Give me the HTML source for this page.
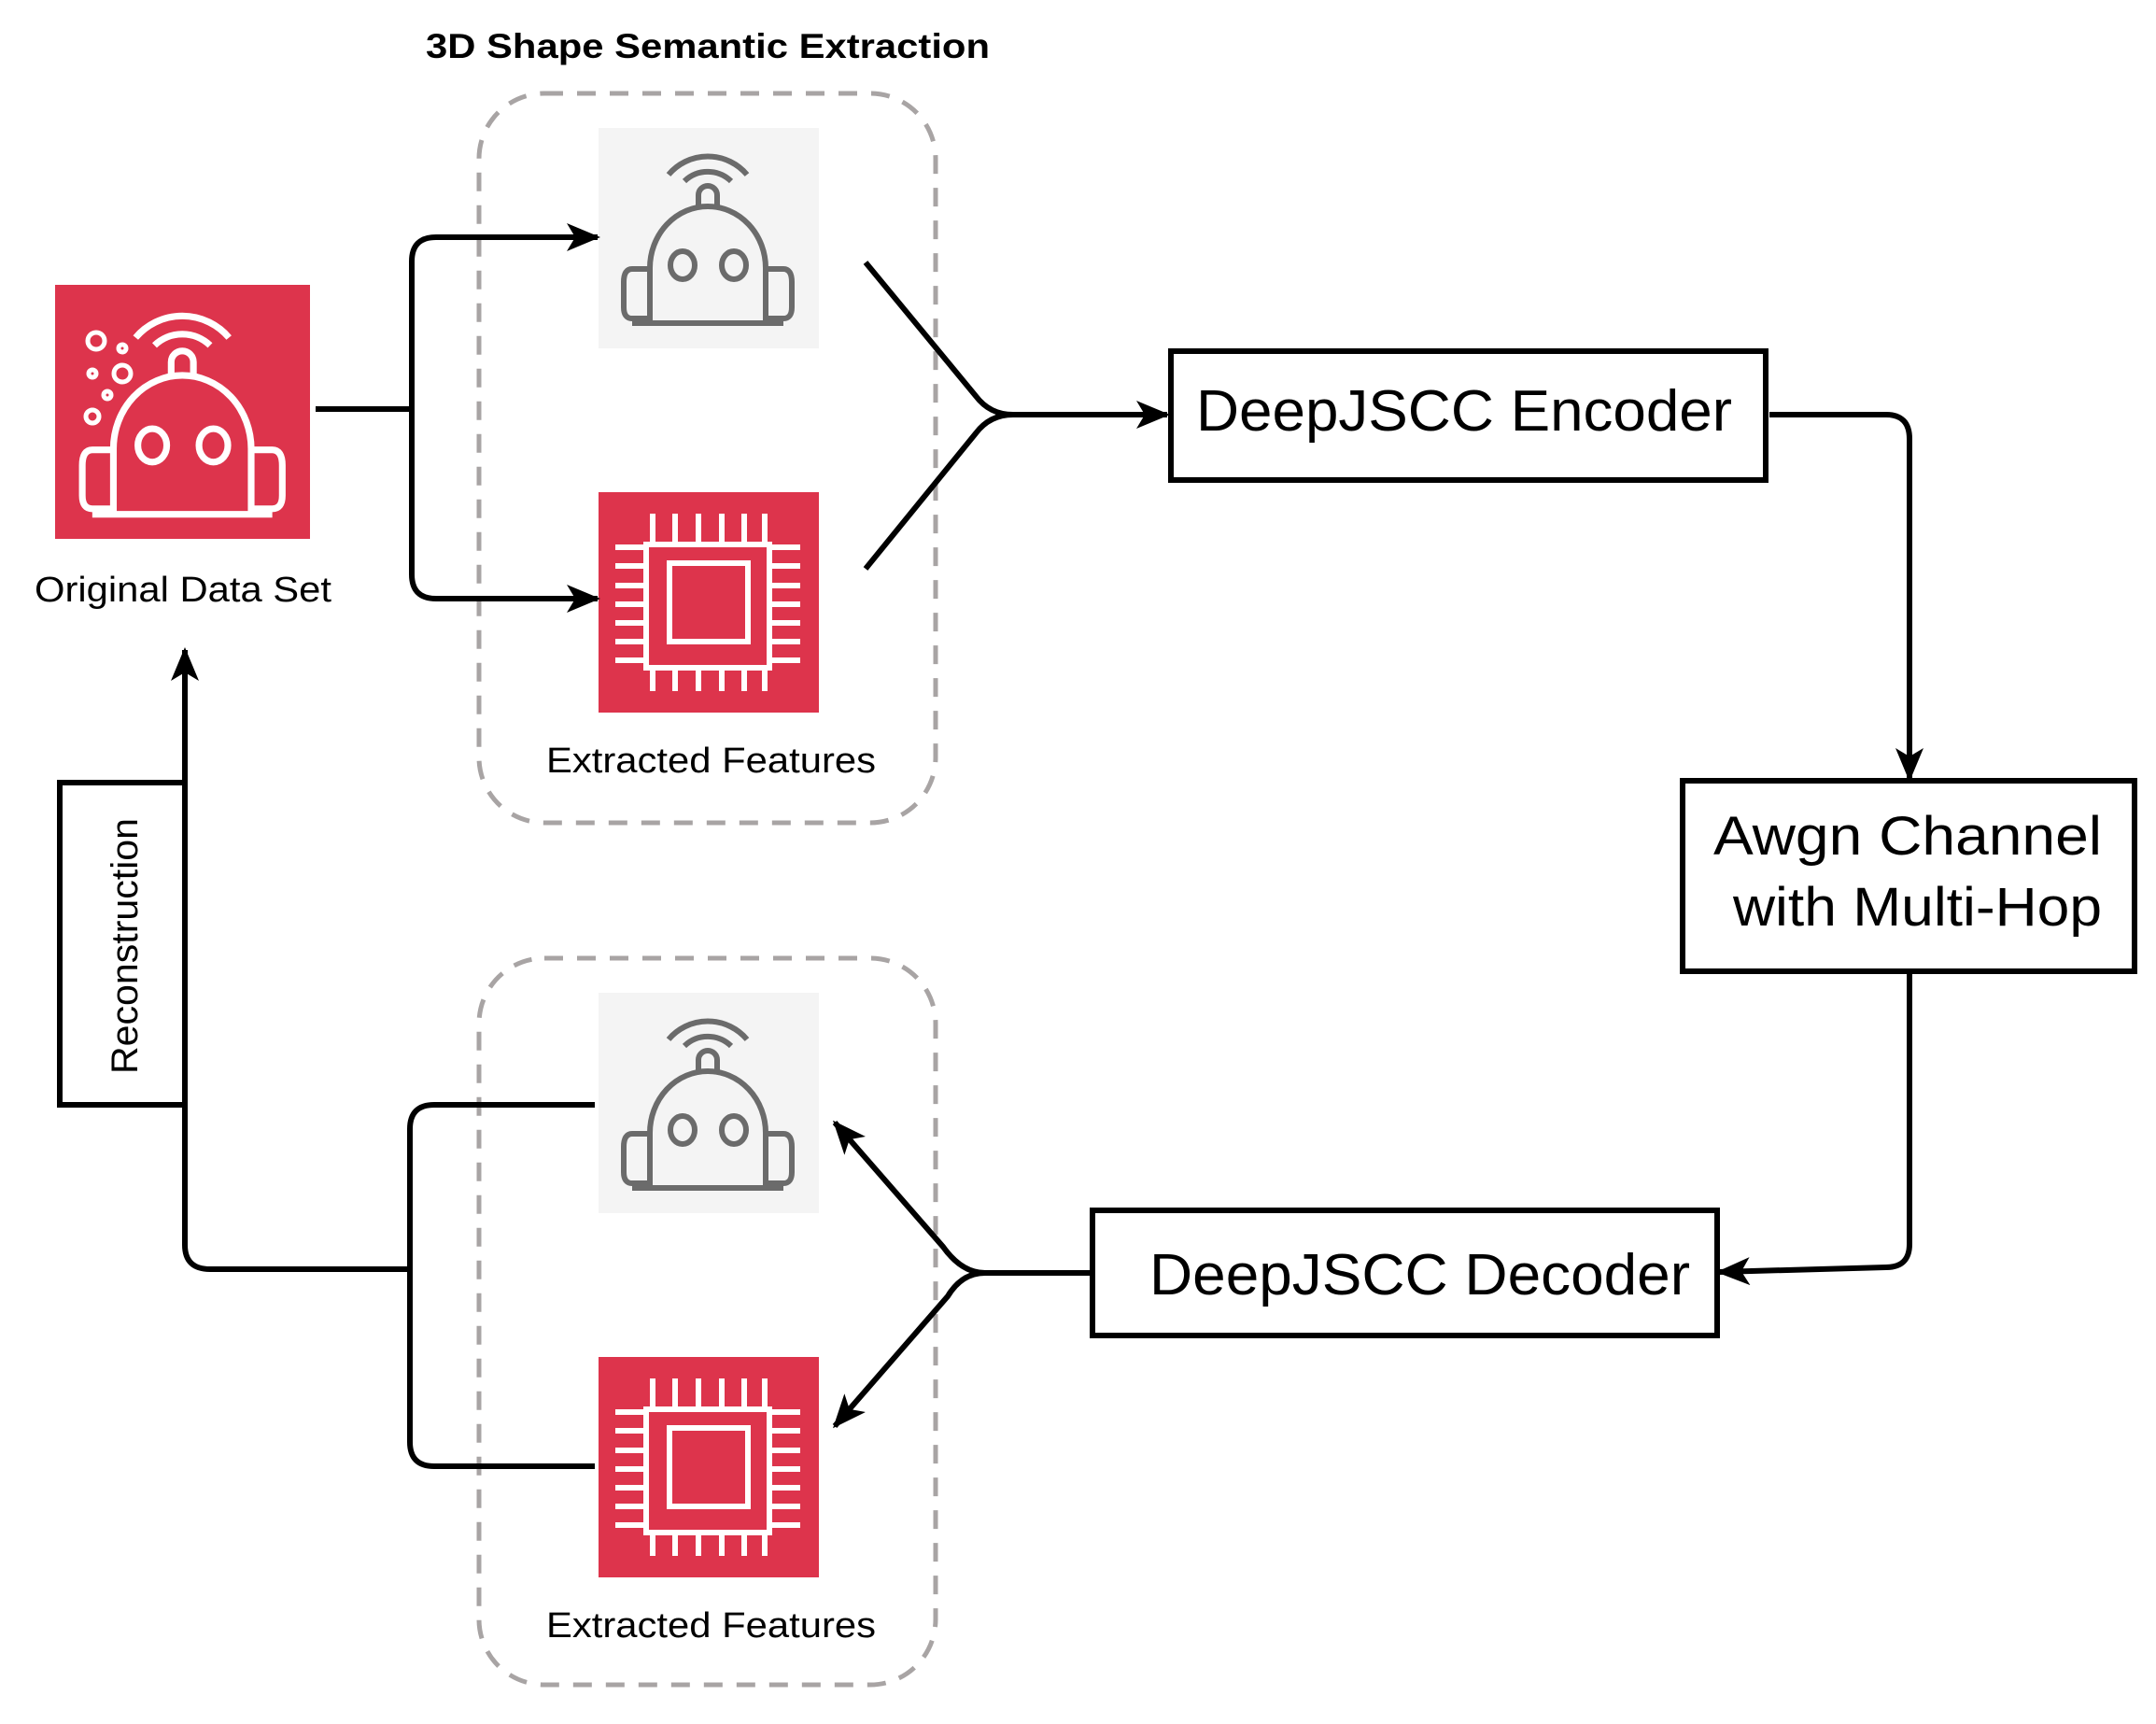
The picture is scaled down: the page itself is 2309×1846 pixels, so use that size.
<!DOCTYPE html>
<html><head><meta charset="utf-8"><style>html,body{margin:0;padding:0;background:#fff}svg{display:block}text{font-family:"Liberation Sans",Arial,sans-serif;fill:#000}</style></head>
<body>
<svg width="2309" height="1846" viewBox="0 0 2309 1846" xmlns="http://www.w3.org/2000/svg">
<defs>
<marker id="a" viewBox="0 0 12 10" refX="11" refY="5" markerWidth="36" markerHeight="30" markerUnits="userSpaceOnUse" orient="auto"><path d="M0,0 L12,5 L0,10 L3,5 z" fill="#000"/></marker>
<g id="robot" fill="none" stroke-width="6">
<path d="M75,50 A55,55 0 0 1 159,50"/>
<path d="M92,57 A36,36 0 0 1 142,57"/>
<path d="M107,86 L107,72 A10,10 0 0 1 127,72 L127,86"/>
<path d="M55,209 L55,150 A62,66 0 0 1 179,150 L179,209"/>
<path d="M36,209 L198,209"/>
<ellipse cx="90" cy="147" rx="13" ry="15"/>
<ellipse cx="145" cy="147" rx="13" ry="15"/>
<path d="M55,151 L36,151 Q27,151 27,165 L27,192 Q27,204 36,204 L55,204"/>
<path d="M179,151 L198,151 Q207,151 207,165 L207,192 Q207,204 198,204 L179,204"/>
</g>
<g id="chip" fill="none" stroke="#fff" stroke-width="6">
<rect x="51" y="56" width="132" height="132"/>
<rect x="76" y="76" width="84" height="84"/>
<path d="M58,23V56M82,23V56M107,23V56M132,23V56M156,23V56M178,23V56M58,188V213M82,188V213M107,188V213M132,188V213M156,188V213M178,188V213M18,59H51M18,79H51M18,100H51M18,120H51M18,140H51M18,160H51M18,180H51M183,59H216M183,79H216M183,100H216M183,120H216M183,140H216M183,160H216M183,180H216"/>
</g>
</defs>

<text x="456" y="62" font-size="37" font-weight="bold" textLength="604" lengthAdjust="spacingAndGlyphs">3D Shape Semantic Extraction</text>

<rect x="513" y="100" width="489" height="781" rx="70" fill="none" stroke="#a8a4a4" stroke-width="5" stroke-dasharray="20 15"/>
<rect x="513" y="1026" width="489" height="778" rx="70" fill="none" stroke="#a8a4a4" stroke-width="5" stroke-dasharray="20 15"/>

<rect x="59" y="305" width="273" height="272" fill="#dd344c"/>
<g transform="translate(56,302) scale(1.19)" stroke="#fff"><use href="#robot"/></g>
<g fill="none" stroke="#fff" stroke-width="5">
<circle cx="103" cy="365" r="9"/><circle cx="131" cy="373" r="4"/><circle cx="131" cy="400" r="9"/>
<circle cx="99" cy="400" r="4"/><circle cx="115" cy="423" r="4"/><circle cx="99" cy="446" r="7"/>
</g>
<text x="37" y="644" font-size="38" textLength="318" lengthAdjust="spacingAndGlyphs">Original Data Set</text>

<rect x="641" y="137" width="236" height="236" fill="#f4f4f4"/>
<g transform="translate(641,137)" stroke="#6b6b6b"><use href="#robot"/></g>
<rect x="641" y="527" width="236" height="236" fill="#dd344c"/>
<g transform="translate(641,527)"><use href="#chip"/></g>
<text x="585" y="827" font-size="38" textLength="353" lengthAdjust="spacingAndGlyphs">Extracted Features</text>

<rect x="641" y="1063" width="236" height="236" fill="#f4f4f4"/>
<g transform="translate(641,1063)" stroke="#6b6b6b"><use href="#robot"/></g>
<rect x="641" y="1453" width="236" height="236" fill="#dd344c"/>
<g transform="translate(641,1453)"><use href="#chip"/></g>
<text x="585" y="1753" font-size="38" textLength="353" lengthAdjust="spacingAndGlyphs">Extracted Features</text>

<g fill="none" stroke="#000" stroke-width="6" stroke-linejoin="round">
<path d="M338,438 H441"/>
<path d="M441,438 V280 Q441,254 467,254 H640" marker-end="url(#a)"/>
<path d="M441,438 V615 Q441,641 467,641 H640" marker-end="url(#a)"/>
<path d="M927,281 L1045,424 Q1060,444 1085,444 H1250" marker-end="url(#a)"/>
<path d="M927,609 L1045,464 Q1060,444 1085,444"/>
<path d="M1895,444 H2020 Q2045,444 2045,470 V834" marker-end="url(#a)"/>
<path d="M2045,1040 V1332 Q2045,1357 2020,1357 L1841,1362" marker-end="url(#a)"/>
<path d="M1170,1363 H1055 Q1030,1363 1010,1335 L894,1202" marker-end="url(#a)"/>
<path d="M1055,1363 Q1030,1363 1015,1388 L894,1527" marker-end="url(#a)"/>
<path d="M637,1183 H465 Q439,1183 439,1209 V1544 Q439,1570 465,1570 H637"/>
<path d="M439,1359 H225 Q198,1359 198,1333 V696" marker-end="url(#a)"/>
</g>

<g fill="#fff" stroke="#000" stroke-width="6">
<rect x="1254" y="376" width="637" height="138"/>
<rect x="1802" y="836" width="484" height="204"/>
<rect x="1170" y="1296" width="669" height="134"/>
<rect x="64" y="838" width="134" height="345"/>
</g>
<text x="1281" y="461" font-size="62" textLength="574" lengthAdjust="spacingAndGlyphs">DeepJSCC Encoder</text>
<text x="1835" y="915" font-size="58" textLength="416" lengthAdjust="spacingAndGlyphs">Awgn Channel</text>
<text x="1856" y="991" font-size="58" textLength="395" lengthAdjust="spacingAndGlyphs">with Multi-Hop</text>
<text x="1231" y="1386" font-size="62" textLength="579" lengthAdjust="spacingAndGlyphs">DeepJSCC Decoder</text>
<text transform="translate(147,1150) rotate(-90)" font-size="40" textLength="274" lengthAdjust="spacingAndGlyphs">Reconstruction</text>
</svg>
</body></html>
